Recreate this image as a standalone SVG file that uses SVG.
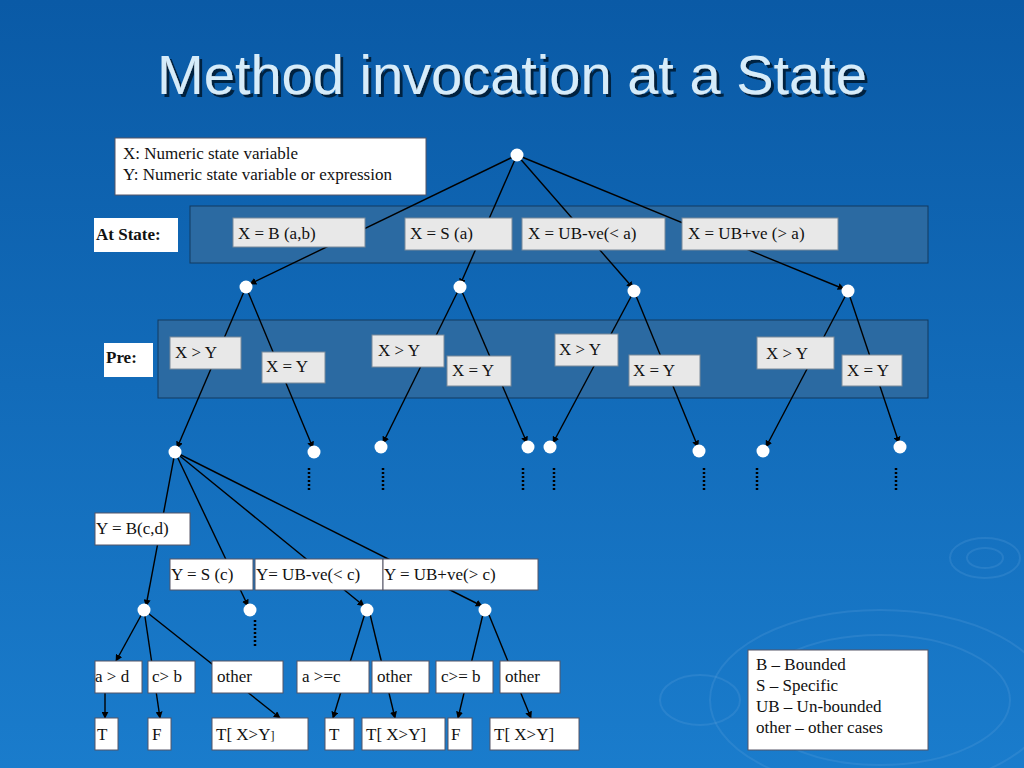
<svg xmlns="http://www.w3.org/2000/svg" width="1024" height="768" viewBox="0 0 1024 768">
<defs>
<linearGradient id="bg" x1="0" y1="0" x2="0" y2="1"><stop offset="0" stop-color="#0a5aa6"/><stop offset="1" stop-color="#1a7ccc"/></linearGradient>
<filter id="sh" x="-5%" y="-20%" width="110%" height="140%"><feDropShadow dx="3" dy="3" stdDeviation="0.5" flood-color="#06203f" flood-opacity="1"/></filter>
<marker id="ar" viewBox="0 0 10 10" refX="9" refY="5" markerWidth="7" markerHeight="7" orient="auto" markerUnits="userSpaceOnUse"><path d="M0,0 L10,5 L0,10 z" fill="#000"/></marker>
<style>
.t{font-family:"Liberation Serif","Times New Roman",serif;font-size:17px;fill:#111}
.g{fill:#e8e8e8;stroke:#7a8a9a;stroke-width:1}
.w{fill:#fff;stroke:#556;stroke-width:1}
.band{fill:#2b6aa2;stroke:#123a60;stroke-width:1}
.e{stroke:#000;stroke-width:1.4;fill:none}
.ea{stroke:#000;stroke-width:1.4;fill:none;marker-end:url(#ar)}
.d{stroke:#000;stroke-width:2.5;stroke-dasharray:2 2}
.n{fill:#fff}
</style>
</defs>
<rect width="1024" height="768" fill="url(#bg)"/>
<g fill="none" stroke="#5aa0dc" stroke-opacity="0.25" stroke-width="2">
<ellipse cx="985" cy="558" rx="35" ry="20"/><ellipse cx="985" cy="558" rx="18" ry="10"/>
<ellipse cx="880" cy="700" rx="170" ry="90"/><ellipse cx="880" cy="700" rx="130" ry="65"/><ellipse cx="700" cy="700" rx="40" ry="25"/>
</g>
<text x="512" y="94" text-anchor="middle" font-family="Liberation Sans,Arial,sans-serif" font-size="56" fill="#d6ecfa" filter="url(#sh)">Method invocation at a State</text>

<g id="legend1"><rect x="115" y="138" width="311" height="57" class="w"/><text class="t" x="123" y="159">X: Numeric state variable</text><text class="t" x="123" y="180">Y: Numeric state variable or expression</text></g>
<g id="bandState"><rect x="190" y="206" width="738" height="57" class="band"/></g>
<g id="bandPre"><rect x="158" y="320" width="770" height="78" class="band"/></g>
<g id="lblState"><rect x="94" y="218" width="84" height="34" fill="#fff"/><text class="t" x="96" y="240" font-weight="bold">At State:</text></g>
<g id="lblPre"><rect x="104" y="343" width="49" height="34" fill="#fff"/><text class="t" x="106" y="363" font-weight="bold">Pre:</text></g>

<g id="connectors">
<line class="ea" x1="517" y1="155" x2="250" y2="284"/>
<line class="ea" x1="517" y1="155" x2="460" y2="285"/>
<line class="ea" x1="517" y1="155" x2="633" y2="288"/>
<line class="ea" x1="517" y1="155" x2="844" y2="289"/>
<line class="ea" x1="246" y1="287" x2="177" y2="448"/>
<line class="ea" x1="246" y1="287" x2="313" y2="448"/>
<line class="ea" x1="460" y1="287" x2="383" y2="443"/>
<line class="ea" x1="460" y1="287" x2="527" y2="443"/>
<line class="ea" x1="634" y1="291" x2="553" y2="443"/>
<line class="ea" x1="634" y1="291" x2="698" y2="447"/>
<line class="ea" x1="848" y1="291" x2="766" y2="447"/>
<line class="ea" x1="848" y1="291" x2="899" y2="443"/>
<line class="ea" x1="175" y1="452" x2="146" y2="606"/>
<line class="ea" x1="175" y1="452" x2="248" y2="606"/>
<line class="ea" x1="175" y1="452" x2="364" y2="606"/>
<line class="ea" x1="175" y1="452" x2="482" y2="606"/>
<line class="ea" x1="144" y1="610" x2="116" y2="661"/>
<line class="ea" x1="144" y1="610" x2="160" y2="718"/>
<line class="ea" x1="144" y1="610" x2="280" y2="718"/>
<line class="ea" x1="105" y1="693" x2="105" y2="718"/>
<line class="ea" x1="366" y1="610" x2="333" y2="718"/>
<line class="ea" x1="369" y1="610" x2="395" y2="718"/>
<line class="ea" x1="484" y1="610" x2="458" y2="718"/>
<line class="ea" x1="487" y1="610" x2="531" y2="718"/>
<line class="d" x1="309" y1="468" x2="309" y2="492"/>
<line class="d" x1="383" y1="468" x2="383" y2="492"/>
<line class="d" x1="523" y1="468" x2="523" y2="492"/>
<line class="d" x1="554" y1="468" x2="554" y2="492"/>
<line class="d" x1="704" y1="468" x2="704" y2="492"/>
<line class="d" x1="757" y1="468" x2="757" y2="492"/>
<line class="d" x1="896" y1="468" x2="896" y2="492"/>
<line class="d" x1="255" y1="620" x2="255" y2="648"/>
</g>

<g id="sB"><rect class="g" x="233" y="218" width="132" height="29"/><text class="t" x="238" y="239">X = B (a,b)</text></g>
<g id="sS"><rect class="g" x="405" y="218" width="107" height="32"/><text class="t" x="410" y="239">X = S (a)</text></g>
<g id="sUm"><rect class="g" x="522" y="218" width="143" height="32"/><text class="t" x="528" y="239">X = UB-ve(&lt; a)</text></g>
<g id="sUp"><rect class="g" x="682" y="218" width="156" height="32"/><text class="t" x="688" y="239">X = UB+ve (&gt; a)</text></g>

<g id="p1"><rect class="g" x="170" y="337" width="71" height="32"/><text class="t" x="175" y="358">X &gt; Y</text></g>
<g id="p2"><rect class="g" x="262" y="352" width="63" height="31"/><text class="t" x="266" y="372">X = Y</text></g>
<g id="p3"><rect class="g" x="372" y="335" width="72" height="32"/><text class="t" x="378" y="356">X &gt; Y</text></g>
<g id="p4"><rect class="g" x="447" y="356" width="64" height="30"/><text class="t" x="452" y="376">X = Y</text></g>
<g id="p5"><rect class="g" x="555" y="334" width="63" height="32"/><text class="t" x="559" y="355">X &gt; Y</text></g>
<g id="p6"><rect class="g" x="629" y="355" width="71" height="31"/><text class="t" x="633" y="376">X = Y</text></g>
<g id="p7"><rect class="g" x="757" y="337" width="77" height="32"/><text class="t" x="766" y="359">X &gt; Y</text></g>
<g id="p8"><rect class="g" x="842" y="355" width="60" height="31"/><text class="t" x="847" y="376">X = Y</text></g>

<g id="yB"><rect class="w" x="95" y="513" width="95" height="32"/><text class="t" x="96" y="534">Y = B(c,d)</text></g>
<g id="yS"><rect class="w" x="170" y="559" width="83" height="31"/><text class="t" x="171" y="580">Y = S (c)</text></g>
<g id="yUm"><rect class="w" x="255" y="559" width="128" height="31"/><text class="t" x="256" y="580">Y= UB-ve(&lt; c)</text></g>
<g id="yUp"><rect class="w" x="383" y="559" width="155" height="31"/><text class="t" x="384" y="580">Y = UB+ve(&gt; c)</text></g>

<g id="c1"><rect class="w" x="95" y="661" width="47" height="32"/><text class="t" x="95" y="682">a &gt; d</text></g>
<g id="c2"><rect class="w" x="148" y="661" width="47" height="32"/><text class="t" x="152" y="682">c&gt; b</text></g>
<g id="c3"><rect class="w" x="212" y="661" width="71" height="32"/><text class="t" x="217" y="682">other</text></g>
<g id="c4"><rect class="w" x="297" y="661" width="72" height="32"/><text class="t" x="302" y="682">a &gt;=c</text></g>
<g id="c5"><rect class="w" x="372" y="661" width="57" height="32"/><text class="t" x="377" y="682">other</text></g>
<g id="c6"><rect class="w" x="436" y="661" width="57" height="32"/><text class="t" x="441" y="682">c&gt;= b</text></g>
<g id="c7"><rect class="w" x="500" y="661" width="60" height="32"/><text class="t" x="505" y="682">other</text></g>

<g id="r1"><rect class="w" x="95" y="718" width="23" height="32"/><text class="t" x="97" y="740">T</text></g>
<g id="r2"><rect class="w" x="148" y="718" width="23" height="32"/><text class="t" x="152" y="740">F</text></g>
<g id="r3"><rect class="w" x="212" y="718" width="96" height="32"/><text class="t" x="216" y="740">T[ X&gt;Y<tspan font-size="12">]</tspan></text></g>
<g id="r4"><rect class="w" x="325" y="718" width="29" height="32"/><text class="t" x="329" y="740">T</text></g>
<g id="r5"><rect class="w" x="362" y="718" width="83" height="32"/><text class="t" x="366" y="740">T[ X&gt;Y]</text></g>
<g id="r6"><rect class="w" x="448" y="718" width="24" height="32"/><text class="t" x="451" y="740">F</text></g>
<g id="r7"><rect class="w" x="490" y="718" width="89" height="32"/><text class="t" x="494" y="740">T[ X&gt;Y]</text></g>

<g id="legend2"><rect class="w" x="748" y="650" width="180" height="100"/>
<text class="t" x="756" y="670">B – Bounded</text><text class="t" x="756" y="691">S – Specific</text><text class="t" x="756" y="712">UB – Un-bounded</text><text class="t" x="756" y="733">other – other cases</text></g>

<g id="nodes">
<circle class="n" cx="517" cy="155" r="6.5"/>
<circle class="n" cx="246" cy="287" r="6.5"/><circle class="n" cx="460" cy="287" r="6.5"/><circle class="n" cx="634" cy="291" r="6.5"/><circle class="n" cx="848" cy="291" r="6.5"/>
<circle class="n" cx="175" cy="452" r="6.5"/><circle class="n" cx="314" cy="452" r="6.5"/><circle class="n" cx="381" cy="447" r="6.5"/><circle class="n" cx="528" cy="447" r="6.5"/><circle class="n" cx="550" cy="447" r="6.5"/><circle class="n" cx="699" cy="451" r="6.5"/><circle class="n" cx="763" cy="451" r="6.5"/><circle class="n" cx="900" cy="447" r="6.5"/>
<circle class="n" cx="144" cy="610" r="6.5"/><circle class="n" cx="250" cy="610" r="6.5"/><circle class="n" cx="367" cy="610" r="6.5"/><circle class="n" cx="485" cy="610" r="6.5"/>
</g>
</svg>
